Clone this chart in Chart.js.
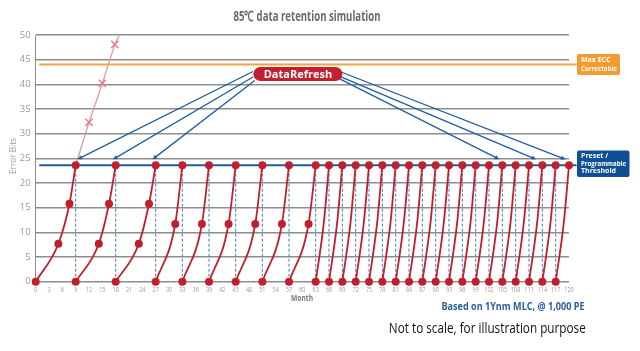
<!DOCTYPE html>
<html>
<head>
<meta charset="utf-8">
<script src="https://cdn.jsdelivr.net/npm/chart.js@4.4.1/dist/chart.umd.min.js"></script>
<style>
    html, body { margin: 0; padding: 0; background: #fff; }
    #wrap { position: relative; width: 640px; height: 351px; }
</style>
</head>
<body>
<div id="wrap"><canvas id="chart"></canvas></div>
<script>
// tick labels
const monthTicks = [0, 3, 6, 9, 12, 15, 18, 21, 24, 27, 30, 33, 36, 39, 42, 45, 48, 51, 54, 57, 60,
    63, 66, 69, 72, 75, 78, 81, 84, 87, 90, 93, 96, 99, 102, 105, 108, 111, 114, 117, 120];
const bitTicks = [0, 5, 10, 15, 20, 25, 30, 35, 40, 45, 50];

// retention cycles: starts at 0 bits, ends at the refresh threshold
const cycleStart = [0, 9, 18, 27, 33, 39, 45, 51, 57, 63, 66, 69, 72, 75, 78, 81, 84, 87, 90, 93,
    96, 99, 102, 105, 108, 111, 114, 117];
const cycleEnd = [9, 18, 27, 33, 39, 45, 51, 57, 63, 66, 69, 72, 75, 78, 81, 84, 87, 90, 93, 96,
    99, 102, 105, 108, 111, 114, 117, 120];
const midMonths = [[5.1, 7.6], [14.2, 16.5], [23.2, 25.5], [31.4], [37.4], [43.4], [49.4], [55.4], [61.4],
    [64.8], [67.8], [70.8], [73.8], [76.8], [79.8], [82.8], [85.8], [88.8], [91.8], [94.8],
    [97.8], [100.8], [103.8], [106.8], [109.8], [112.8], [115.8], [118.8]];
const midBits = [[7.7, 15.8], [7.7, 15.8], [7.7, 15.8], [11.7], [11.7], [11.7], [11.7], [11.7], [11.7],
    [11.7], [11.7], [11.7], [11.7], [11.7], [11.7], [11.7], [11.7], [11.7], [11.7], [11.7],
    [11.7], [11.7], [11.7], [11.7], [11.7], [11.7], [11.7], [11.7]];
const midMarked = [true, true, true, true, true, true, true, true, true,
    false, false, false, false, false, false, false, false, false, false, false,
    false, false, false, false, false, false, false, false];

const thresholdBits = 23.6;
const eccBits = 44;
const lineMonths = [0.8, 121.7];

// no refresh: error bits keep growing
const bakeMonths = [9, 12, 15, 17.8, 18.8];
const bakeBits = [23.6, 32.3, 40.2, 48.1, 50];
const bakeMarked = [false, true, true, true, false];

// DataRefresh arrows
const arrowStartMonths = [48.9, 48.9, 49.3, 68.4, 68.4, 68.4];
const arrowStartBits = [42.6, 41.5, 40.8, 42.6, 41.6, 41.1];
const arrowEndMonths = [9.4, 17.4, 26.3, 119.2, 112.6, 104.3];
const arrowEndBits = 24.8;
const labelMonth = 59.0;
const labelBits = 42.1;

const RED = '#c01f2b';
const BLUE = '#1d5ea2';
const FONT = '"Open Sans", "Liberation Sans", sans-serif';

const datasets = [];

cycleStart.forEach((start, i) => {
    const xs = [start, ...midMonths[i], cycleEnd[i]];
    const ys = [0, ...midBits[i], thresholdBits];
    datasets.push({
        data: xs.map((x, j) => ({ x: x, y: ys[j] })),
        borderColor: RED,
        borderWidth: 1.8,
        pointRadius: xs.map((x, j) => (j === 0 || j === xs.length - 1 || midMarked[i]) ? 4 : 0),
        pointBackgroundColor: RED,
        pointBorderWidth: 0,
        cubicInterpolationMode: 'monotone',
        clip: false,
        order: 1
    });
});

// dashed drop lines at every refresh
const dropData = [];
cycleStart.slice(1).forEach(m => {
    dropData.push({ x: m, y: 0 }, { x: m, y: thresholdBits }, { x: m, y: null });
});
datasets.push({
    data: dropData,
    borderColor: '#3f7dbd',
    borderWidth: 1,
    borderDash: [3, 2],
    pointRadius: 0,
    spanGaps: false,
    clip: false,
    order: 3
});

datasets.push({
    data: bakeMonths.map((m, i) => ({ x: m, y: bakeBits[i] })),
    borderColor: '#e8939b',
    borderWidth: 1.3,
    pointStyle: 'crossRot',
    pointRadius: bakeMarked.map(v => v ? 5 : 0),
    pointBorderColor: '#e27f8a',
    pointBorderWidth: 1.5,
    clip: false,
    order: 2
});

datasets.push({
    data: lineMonths.map(m => ({ x: m, y: thresholdBits })),
    borderColor: BLUE,
    borderWidth: 2,
    pointRadius: 0,
    clip: false,
    order: 4
});

datasets.push({
    data: lineMonths.map(m => ({ x: m, y: eccBits })),
    borderColor: '#f4a444',
    borderWidth: 2,
    pointRadius: 0,
    clip: false,
    order: 5
});

function drawText(ctx, text, x, y, font, color, maxWidth, align) {
    ctx.font = font;
    ctx.fillStyle = color;
    ctx.textAlign = align || 'center';
    ctx.textBaseline = 'middle';
    if (maxWidth) {
        ctx.fillText(text, x, y, maxWidth);
    } else {
        ctx.fillText(text, x, y);
    }
}

function drawArrow(ctx, x1, y1, x2, y2) {
    const ang = Math.atan2(y2 - y1, x2 - x1);
    const len = 5;
    ctx.beginPath();
    ctx.moveTo(x1, y1);
    ctx.lineTo(x2 - Math.cos(ang) * 2, y2 - Math.sin(ang) * 2);
    ctx.stroke();
    ctx.beginPath();
    ctx.moveTo(x2, y2);
    ctx.lineTo(x2 - len * Math.cos(ang - 0.45), y2 - len * Math.sin(ang - 0.45));
    ctx.lineTo(x2 - len * Math.cos(ang + 0.45), y2 - len * Math.sin(ang + 0.45));
    ctx.closePath();
    ctx.fill();
}

const extrasPlugin = {
    id: 'extras',
    afterDatasetsDraw(chart) {
        const ctx = chart.ctx;
        const xs = chart.scales.x;
        const ys = chart.scales.y;
        ctx.save();

        // arrows from the DataRefresh label
        ctx.strokeStyle = BLUE;
        ctx.fillStyle = BLUE;
        ctx.lineWidth = 1.3;
        arrowStartMonths.forEach((m, i) => {
            drawArrow(ctx,
                xs.getPixelForValue(m), ys.getPixelForValue(arrowStartBits[i]),
                xs.getPixelForValue(arrowEndMonths[i]), ys.getPixelForValue(arrowEndBits));
        });

        // DataRefresh label
        const cx = xs.getPixelForValue(labelMonth);
        const cy = ys.getPixelForValue(labelBits);
        ctx.fillStyle = '#c41f2e';
        ctx.beginPath();
        ctx.roundRect(cx - 44.5, cy - 7, 89, 14, 7);
        ctx.fill();
        drawText(ctx, 'DataRefresh', cx, cy + 0.5, 'bold 11px ' + FONT, '#fff', 70);

        // side labels
        const ey = ys.getPixelForValue(eccBits);
        ctx.fillStyle = '#f39b2e';
        ctx.beginPath();
        ctx.roundRect(577, ey - 10.5, 43, 21, 2);
        ctx.fill();
        drawText(ctx, 'Max ECC', 581, ey - 4.3, 'bold 7px ' + FONT, '#fff', 36, 'left');
        drawText(ctx, 'Correctable', 581, ey + 4.3, 'bold 7px ' + FONT, '#fff', 36, 'left');

        const ty = ys.getPixelForValue(thresholdBits) - 1.5;
        ctx.fillStyle = '#0f4f93';
        ctx.beginPath();
        ctx.roundRect(577, ty - 13.3, 52.5, 26.6, 2);
        ctx.fill();
        drawText(ctx, 'Preset /', 581, ty - 7.5, 'bold 7px ' + FONT, '#fff', 45, 'left');
        drawText(ctx, 'Programmable', 581, ty, 'bold 7px ' + FONT, '#fff', 45, 'left');
        drawText(ctx, 'Threshold', 581, ty + 7.5, 'bold 7px ' + FONT, '#fff', 45, 'left');

        ctx.restore();
    },
    afterDraw(chart) {
        const ctx = chart.ctx;
        const xs = chart.scales.x;
        ctx.save();

        // month labels, narrow like the original
        monthTicks.forEach(m => {
            const txt = String(m);
            drawText(ctx, txt, xs.getPixelForValue(m), 290, '7.5px ' + FONT, '#9a9a9a', txt.length * 3.1);
        });

        drawText(ctx, '85℃ data retention simulation', 307, 17, 'bold 14px ' + FONT, '#6a6a6a', 147);
        drawText(ctx, 'Month', 302, 298.5, 'bold 8px ' + FONT, '#7a7a7a', 22);
        drawText(ctx, 'Based on 1Ynm MLC, @ 1,000 PE', 513, 306.7, 'bold 10.5px ' + FONT, '#2a5e9c', 143);
        drawText(ctx, 'Not to scale, for illustration purpose', 487.3, 329, '500 15px ' + FONT, '#111', 197);

        ctx.translate(13.5, 156);
        ctx.rotate(-Math.PI / 2);
        drawText(ctx, 'Error Bits', 0, 0, '9px ' + FONT, '#9a9a9a', 36);
        ctx.restore();
    }
};

new Chart(document.getElementById('chart'), {
    type: 'line',
    data: { datasets: datasets },
    options: {
        responsive: true,
        maintainAspectRatio: false,
        animation: false,
        layout: {
            padding: { top: 35, right: 71, left: 0, bottom: 0 }
        },
        plugins: {
            legend: { display: false },
            title: { display: false },
            tooltip: { enabled: false }
        },
        scales: {
            x: {
                type: 'linear',
                min: 0,
                max: 120,
                afterBuildTicks: scale => { scale.ticks = monthTicks.map(v => ({ value: v })); },
                afterFit: scale => { scale.height = 69.3; },
                ticks: { display: false },
                grid: { display: false, drawTicks: false },
                border: { display: false }
            },
            y: {
                min: 0,
                max: 50,
                afterBuildTicks: scale => { scale.ticks = bitTicks.map(v => ({ value: v })); },
                afterFit: scale => { scale.width = 35.7; },
                ticks: {
                    padding: 5,
                    color: '#9a9a9a',
                    font: { family: FONT, size: 9.5 }
                },
                grid: { color: '#8d8d8d', lineWidth: 1.5, drawTicks: false },
                border: { display: true, color: '#8d8d8d', width: 1 }
            }
        }
    },
    plugins: [extrasPlugin]
});
</script>
</body>
</html>
